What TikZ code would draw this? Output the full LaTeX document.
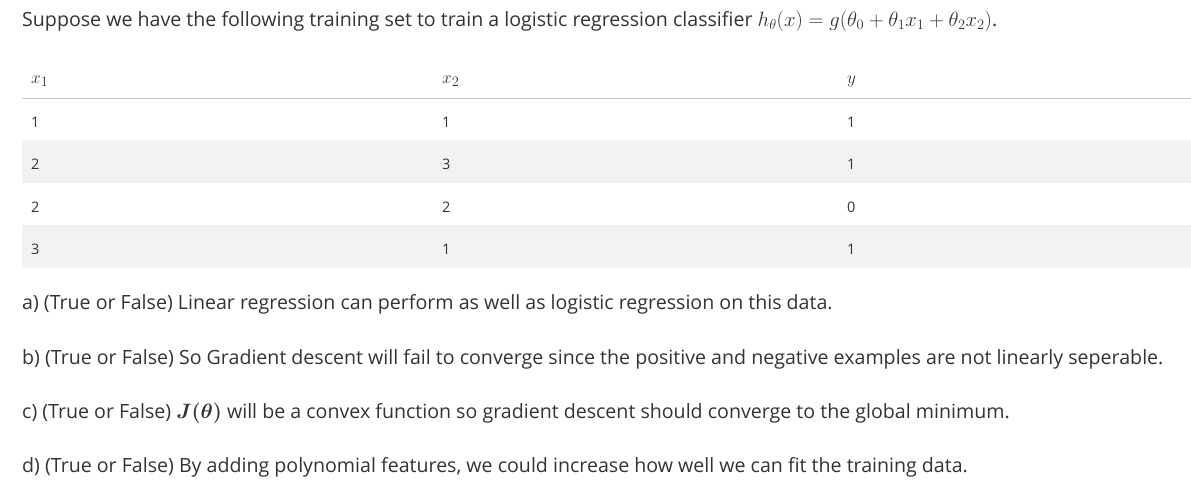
\documentclass[tikz,border=0pt]{standalone}
\usepackage{amsmath,amssymb}
\usepackage{bm}
\usepackage{fontspec}
\setmainfont{Open Sans}
\definecolor{txt}{HTML}{333333}
\definecolor{rowg}{HTML}{F2F2F2}
\definecolor{rule}{HTML}{C8C8C8}
\begin{document}
\begin{tikzpicture}[x=1pt,y=-1pt,
  t/.style={anchor=base west,inner sep=0pt,text=txt,font=\fontsize{19.6}{24}\selectfont},
  c/.style={anchor=base west,inner sep=0pt,text=txt,font=\fontsize{14.5}{16}\selectfont},
  m/.style={anchor=base west,inner sep=0pt,text=txt,font=\fontsize{19}{20}\selectfont}]
\useasboundingbox (0,0) rectangle (1191,488);
\fill[rowg] (22,140) rectangle (1191,183);
\fill[rowg] (22,225) rectangle (1191,268);
\draw[rule,line width=1.2] (22,98.5) -- (1191,98.5);
\node[t] (title) at (22,26) {Suppose we have the following training set to train a logistic regression classifier $h_\theta(x)=g(\theta_0+\theta_1x_1+\theta_2x_2)$.};
\node[m] (h1) at (31,83) {$x_1$};
\node[m] (h2) at (442,83) {$x_2$};
\node[m] (h3) at (847,83) {$y$};
\node[c] (a1) at (31,127) {1}; \node[c] (a2) at (442,127) {1}; \node[c] (a3) at (847,127) {1};
\node[c] (b1) at (31,169) {2}; \node[c] (b2) at (442,169) {3}; \node[c] (b3) at (847,169) {1};
\node[c] (c1) at (31,212) {2}; \node[c] (c2) at (442,212) {2}; \node[c] (c3) at (847,212) {0};
\node[c] (d1) at (31,254) {3}; \node[c] (d2) at (442,254) {1}; \node[c] (d3) at (847,254) {1};
\node[t] (qa) at (22,309) {a) (True or False) Linear regression can perform as well as logistic regression on this data.};
\node[t] (qb) at (22,364) {b) (True or False) So Gradient descent will fail to converge since the positive and negative examples are not linearly seperable.};
\node[t] (qc) at (22,418) {c) (True or False) $\bm{J(\theta)}$ will be a convex function so gradient descent should converge to the global minimum.};
\node[t] (qd) at (22,472) {d) (True or False) By adding polynomial features, we could increase how well we can fit the training data.};
\end{tikzpicture}
\end{document}
